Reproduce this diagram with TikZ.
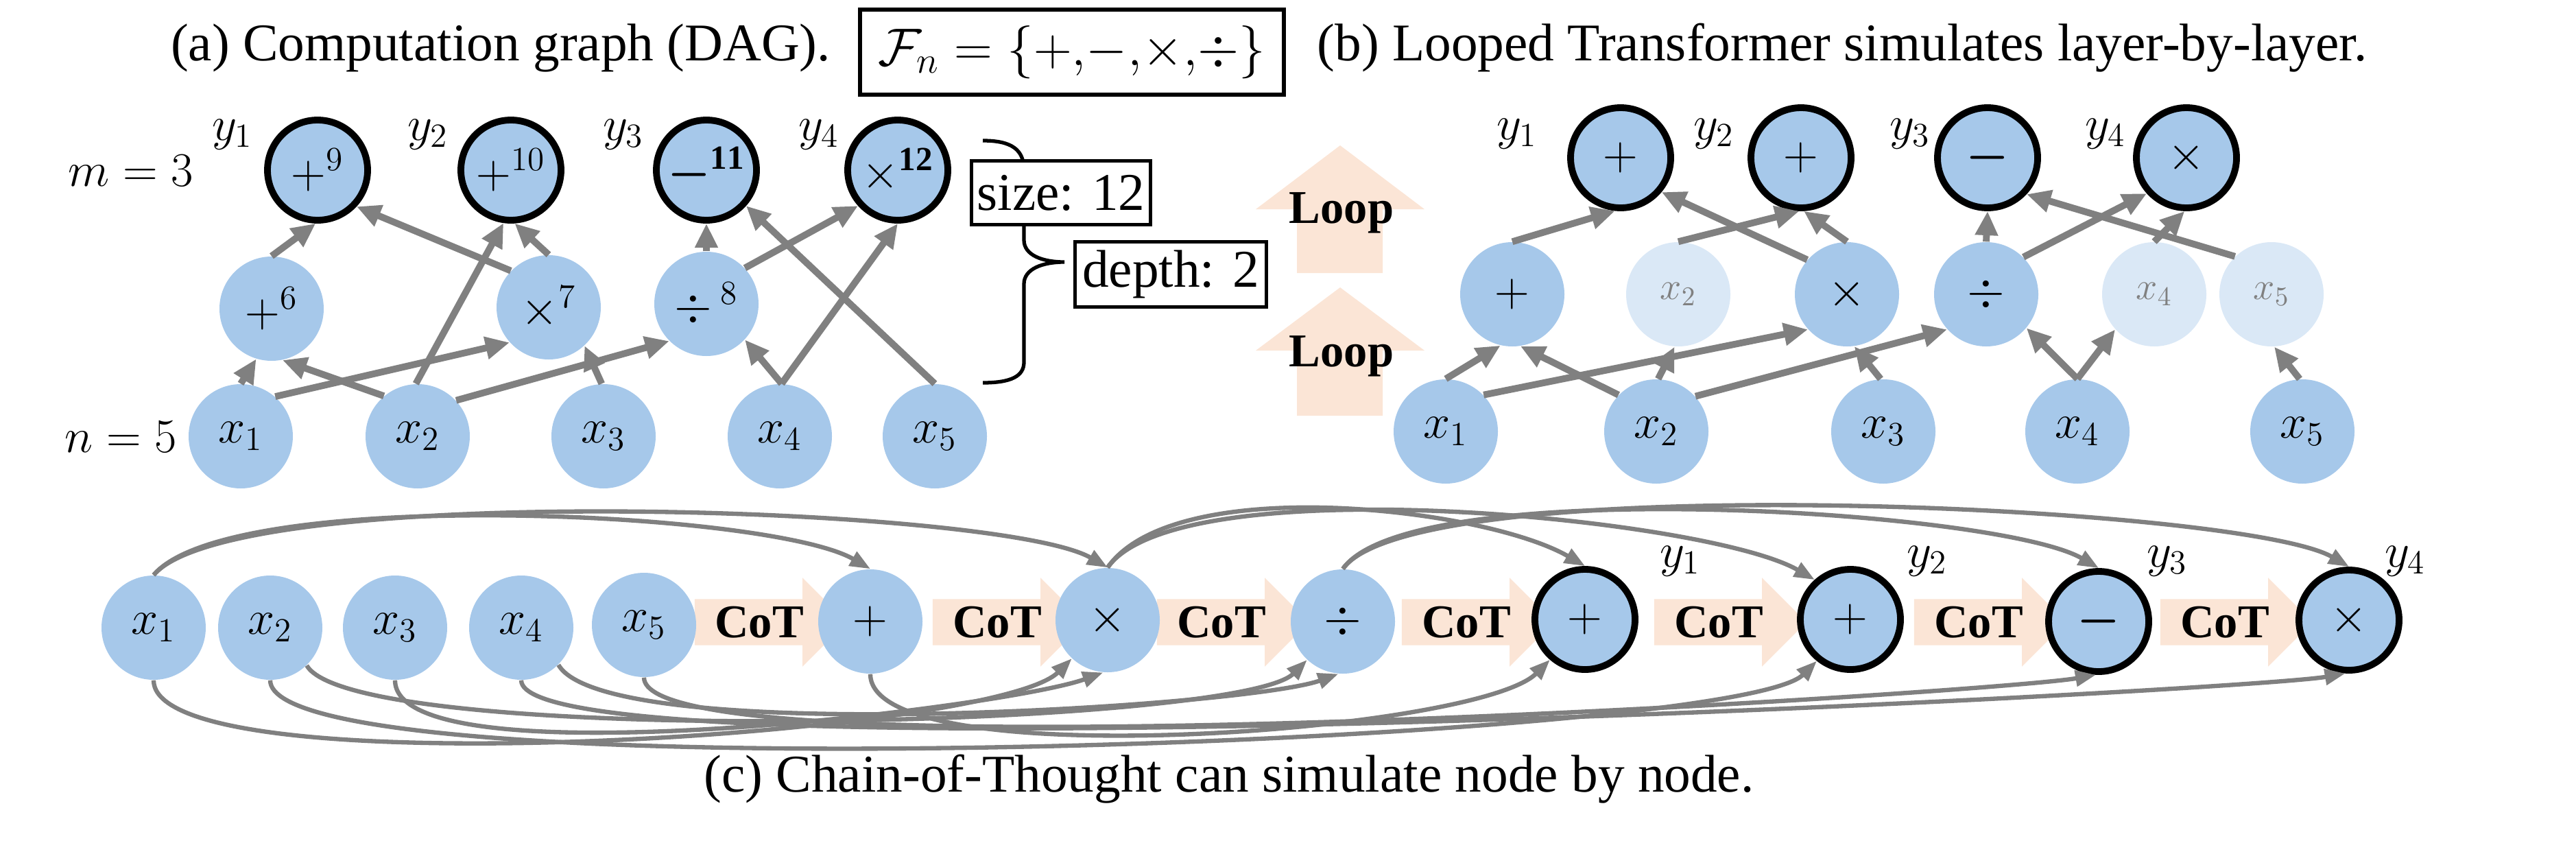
\RequirePackage{fix-cm}
\documentclass[tikz,border=0pt]{standalone}
\usepackage{amsmath}
\usepackage{amssymb}
\usepackage{fontspec}
\setmainfont{Liberation Serif}
\usepackage{tikz}
\usetikzlibrary{arrows.meta, shapes.arrows}

\definecolor{nodeblue}{RGB}{166,200,234}
\definecolor{fadeblue}{RGB}{218,232,246}
\definecolor{edgegray}{RGB}{128,128,128}
\definecolor{peach}{RGB}{251,229,214}

\tikzset{
	op/.style={circle, fill=nodeblue, minimum size=1.52cm, inner sep=0pt, font=\fontsize{20}{24}\selectfont},
	res/.style={op, draw=black, line width=2.8pt, minimum size=1.46cm},
	ghost/.style={op, fill=fadeblue, text=edgegray, font=\fontsize{16}{19}\selectfont},
	lab/.style={inner sep=0pt, font=\fontsize{20}{24}\selectfont},
	caption/.style={inner sep=0pt, font=\fontsize{22}{26}\selectfont},
	word/.style={inner sep=0pt, font=\fontsize{19.5}{23}\selectfont\bfseries},
	tag/.style={draw, line width=1.5pt, fill=white, inner sep=0pt, font=\fontsize{22}{26}\selectfont},
	wire/.style={edgegray, line width=2.8pt, -{Triangle[length=10pt, width=9pt]}},
	arc/.style={edgegray, line width=1.8pt, -{Triangle[length=8.5pt, width=6.5pt]}},
	cot/.style={single arrow, fill=peach, single arrow head extend=0.31cm, minimum height=2.22cm, inner ysep=0.1cm, inner xsep=0pt, font=\fontsize{19.5}{23}\selectfont\bfseries},
}

\begin{document}
\begin{tikzpicture}
	\useasboundingbox (0,0) rectangle (37.56,12.6);

	\node[caption] (ta) at (7.30,11.90) {(a) Computation graph (DAG).};
	\node[tag, minimum width=6.18cm, minimum height=1.24cm] (fam) at (15.63,11.84) {$\mathcal{F}_n = \{+,\!-,\!\times,\!\div\}$};
	\node[caption] (tb) at (26.86,11.90) {(b) Looped Transformer simulates layer-by-layer.};
	\node[caption] (tc) at (17.92,1.24) {(c) Chain-of-Thought can simulate node by node.};

	\node[res] (a9) at (4.63,10.12) {$+^{9}$};
	\node[res] (a10) at (7.45,10.12) {$+^{10}$};
	\node[res] (a11) at (10.30,10.12) {$\boldsymbol{-}^{\mathbf{11}}$};
	\node[res] (a12) at (13.09,10.12) {$\times^{\mathbf{12}}$};
	\node[op] (a6) at (3.96,8.10) {$+^{6}$};
	\node[op] (a7) at (8.00,8.12) {$\times^{7}$};
	\node[op] (a8) at (10.30,8.17) {$\div\,^{8}$};
	\node[op] (ax1) at (3.51,6.24) {$x_1$};
	\node[op] (ax2) at (6.09,6.24) {$x_2$};
	\node[op] (ax3) at (8.80,6.24) {$x_3$};
	\node[op] (ax4) at (11.37,6.24) {$x_4$};
	\node[op] (ax5) at (13.63,6.24) {$x_5$};
	\node[lab] (ay1) at (3.39,10.64) {$y_1$};
	\node[lab] (ay2) at (6.24,10.64) {$y_2$};
	\node[lab] (ay3) at (9.09,10.64) {$y_3$};
	\node[lab] (ay4) at (11.94,10.64) {$y_4$};
	\node[lab] (mrow) at (1.91,10.11) {$m = 3$};
	\node[lab] (nrow) at (1.76,6.23) {$n = 5$};

	\draw[wire] (ax1.90) -- (a6.253);
	\draw[wire] (ax2.130) -- (a6.282);
	\draw[wire] (ax1.49) -- (a7.222);
	\draw[wire] (ax2.92) -- (a10.262);
	\draw[wire] (ax2.43) -- (a8.225);
	\draw[wire] (ax3.92) -- (a7.313);
	\draw[wire] (ax4.88) -- (a8.317);
	\draw[wire] (ax4.88) -- (a12.270);
	\draw[wire] (ax5.90) -- (a11.318);
	\draw[wire] (a6.90) -- (a9.268);
	\draw[wire] (a7.136) -- (a9.317);
	\draw[wire] (a7.90) -- (a10.274);
	\draw[wire] (a8.90) -- (a11.270);
	\draw[wire] (a8.43) -- (a12.222);

	\draw[line width=1.5pt] (14.33,10.55) .. controls (14.75,10.55) and (14.93,10.42) .. (14.93,10.12) -- (14.93,9.10) .. controls (14.93,8.88) and (15.20,8.78) .. (15.52,8.78) .. controls (15.20,8.78) and (14.93,8.68) .. (14.93,8.46) -- (14.93,7.32) .. controls (14.93,7.12) and (14.75,7.02) .. (14.33,7.02);
	\node[tag, minimum width=2.61cm, minimum height=0.93cm] (sz) at (15.47,9.79) {size: 12};
	\node[tag, minimum width=2.79cm, minimum height=0.95cm] (dp) at (17.07,8.60) {depth: 2};

	\fill[peach] (18.91,8.62) -- (18.91,9.55) -- (18.31,9.55) -- (19.54,10.48) -- (20.77,9.55) -- (20.16,9.55) -- (20.16,8.62) -- cycle;
	\fill[peach] (18.91,6.54) -- (18.91,7.49) -- (18.31,7.49) -- (19.54,8.41) -- (20.77,7.49) -- (20.16,7.49) -- (20.16,6.54) -- cycle;
	\node[word] (loop1) at (19.56,9.50) {Loop};
	\node[word] (loop2) at (19.56,7.41) {Loop};

	\node[res] (by1) at (23.63,10.30) {$+$};
	\node[res] (by2) at (26.26,10.30) {$+$};
	\node[res] (by3) at (28.98,10.30) {$\boldsymbol{-}$};
	\node[res] (by4) at (31.88,10.30) {$\times$};
	\node[op] (bp) at (22.05,8.31) {$+$};
	\node[ghost] (bf2) at (24.47,8.31) {$x_2$};
	\node[op] (bt) at (26.93,8.31) {$\times$};
	\node[op] (bd) at (28.96,8.31) {$\div$};
	\node[ghost] (bf4) at (31.41,8.31) {$x_4$};
	\node[ghost] (bf5) at (33.12,8.31) {$x_5$};
	\node[op] (bx1) at (21.08,6.31) {$x_1$};
	\node[op] (bx2) at (24.15,6.31) {$x_2$};
	\node[op] (bx3) at (27.46,6.31) {$x_3$};
	\node[op] (bx4) at (30.29,6.31) {$x_4$};
	\node[op] (bx5) at (33.57,6.31) {$x_5$};
	\node[lab] (byl1) at (22.12,10.65) {$y_1$};
	\node[lab] (byl2) at (24.99,10.65) {$y_2$};
	\node[lab] (byl3) at (27.85,10.65) {$y_3$};
	\node[lab] (byl4) at (30.70,10.65) {$y_4$};

	\draw[wire] (bx1.90) -- (bp.257);
	\draw[wire] (bx2.136) -- (bp.279);
	\draw[wire] (bx1.44) -- (bt.222);
	\draw[wire] (bx2.88) -- (bf2.266);
	\draw[wire] (bx2.42) -- (bd.222);
	\draw[wire] (bx3.93) -- (bt.278);
	\draw[wire] (bx4.90) -- (bd.320);
	\draw[wire] (bx4.90) -- (bf4.222);
	\draw[wire] (bx5.93) -- (bf5.273);
	\draw[wire] (bp.90) -- (by1.264);
	\draw[wire] (bf2.90) -- (by2.268);
	\draw[wire] (bt.139) -- (by1.320);
	\draw[wire] (bt.90) -- (by2.273);
	\draw[wire] (bd.90) -- (by3.270);
	\draw[wire] (bd.45) -- (by4.222);
	\draw[wire] (bf4.90) -- (by4.268);
	\draw[wire] (bf5.134) -- (by3.317);

	\node[cot] (k1) at (11.07,3.53) {CoT};
	\node[cot] (k2) at (14.54,3.53) {CoT};
	\node[cot] (k3) at (17.81,3.53) {CoT};
	\node[cot] (k4) at (21.38,3.53) {CoT};
	\node[cot] (k5) at (25.06,3.53) {CoT};
	\node[cot] (k6) at (28.85,3.53) {CoT};
	\node[cot] (k7) at (32.44,3.53) {CoT};

	\node[op] (cx1) at (2.24,3.45) {$x_1$};
	\node[op] (cx2) at (3.94,3.45) {$x_2$};
	\node[op] (cx3) at (5.76,3.45) {$x_3$};
	\node[op] (cx4) at (7.60,3.45) {$x_4$};
	\node[op] (cx5) at (9.39,3.49) {$x_5$};
	\node[op] (cp) at (12.69,3.54) {$+$};
	\node[op] (ct) at (16.15,3.56) {$\times$};
	\node[op] (cd) at (19.58,3.54) {$\div$};
	\node[res] (cy1) at (23.11,3.57) {$+$};
	\node[res] (cy2) at (26.98,3.57) {$+$};
	\node[res] (cy3) at (30.60,3.54) {$\boldsymbol{-}$};
	\node[res] (cy4) at (34.25,3.56) {$\times$};
	\node[lab] (cyl1) at (24.50,4.42) {$y_1$};
	\node[lab] (cyl2) at (28.10,4.42) {$y_2$};
	\node[lab] (cyl3) at (31.60,4.42) {$y_3$};
	\node[lab] (cyl4) at (35.07,4.42) {$y_4$};

	\draw[arc] (cx1.north) to[out=50, in=150, distance=1.7cm] (cp.north);
	\draw[arc] (cx1.north) to[out=50, in=150, distance=1.8cm] (ct.north);
	\draw[arc] (ct.north) to[out=55, in=150, distance=1.7cm] (cy1.north);
	\draw[arc] (ct.north) to[out=55, in=150, distance=1.8cm] (cy2.132);
	\draw[arc] (cd.north) to[out=55, in=150, distance=1.7cm] (cy3.north);
	\draw[arc] (cd.north) to[out=55, in=150, distance=1.8cm] (cy4.north);

	\draw[arc] (cx1.270) to[out=-90, in=225, distance=1.6cm] (ct.227);
	\draw[arc] (cx3.270) to[out=-90, in=200, distance=1.5cm] (ct.265);
	\draw[arc] (cx2.314) to[out=-60, in=225, distance=1.4cm] (cd.227);
	\draw[arc] (cx4.315) to[out=-60, in=200, distance=1.4cm] (cd.265);
	\draw[arc] (cp.270) to[out=-90, in=225, distance=1.5cm] (cy1.229);
	\draw[arc] (cx2.270) to[out=-90, in=225, distance=1.7cm] (cy2.231);
	\draw[arc] (cx5.270) to[out=-90, in=190, distance=1.5cm] (cy3.267);
	\draw[arc] (cx4.270) to[out=-90, in=190, distance=1.5cm] (cy4.266);
\end{tikzpicture}
\end{document}
